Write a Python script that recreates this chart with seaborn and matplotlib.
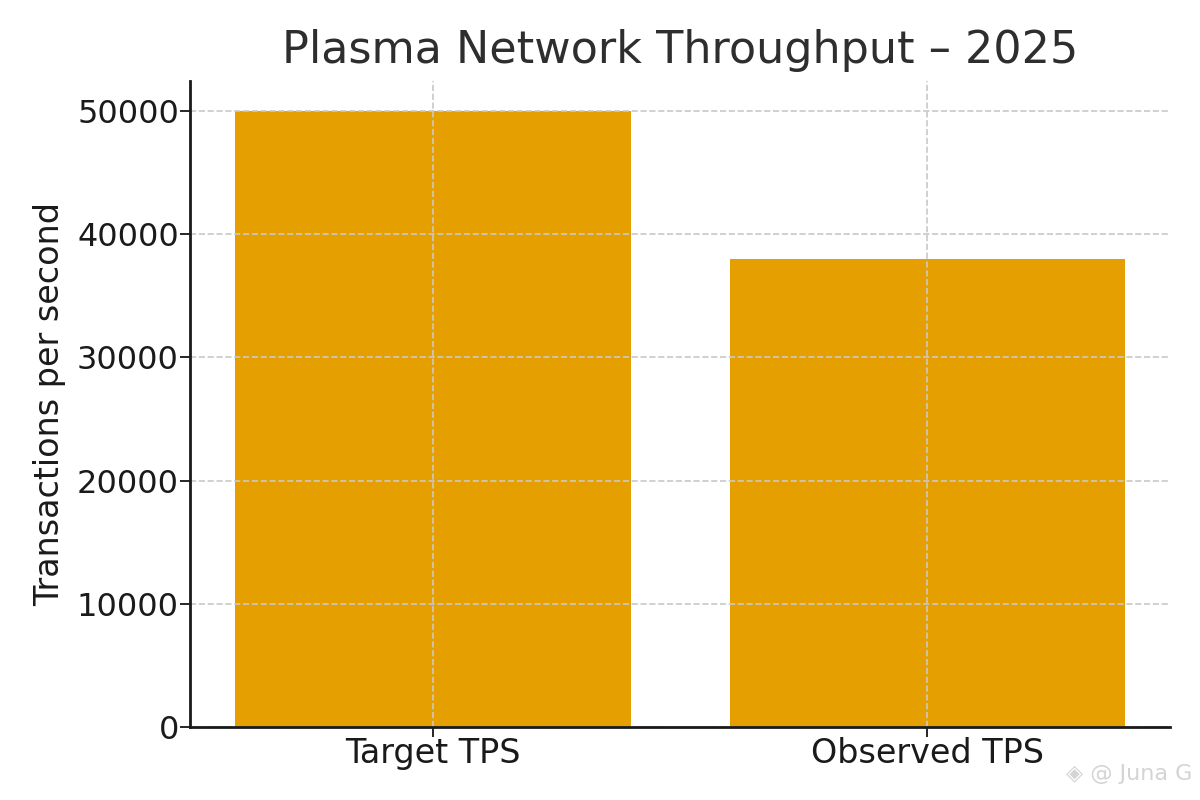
import matplotlib
matplotlib.use("Agg")
import matplotlib.pyplot as plt
import pandas as pd
import seaborn as sns

categories = ["Target TPS", "Observed TPS"]
tps_values = [50000, 38000]
y_ticks = [0, 10000, 20000, 30000, 40000, 50000]

df = pd.DataFrame({"metric": categories, "tps": tps_values})

sns.set_theme(style="ticks")
plt.rcParams["font.family"] = ["DejaVu Sans"]

fig = plt.figure(figsize=(12, 8), dpi=100)
ax = fig.add_axes([190 / 1200, 1 - 727 / 800, (1170 - 190) / 1200, (727 - 81) / 800])

sns.barplot(data=df, x="metric", y="tps", color="#E69F00", saturation=1, width=0.8, linewidth=0, ax=ax, zorder=2)

ax.set_xlim(-0.4914, 1.4904)
ax.set_ylim(0, 52435)
ax.set_yticks(y_ticks)
ax.grid(True, linestyle="--", linewidth=1.2, color="#c8c8c8", zorder=3)
ax.set_axisbelow(False)

ax.set_title("Plasma Network Throughput – 2025", fontsize=32, color="#2e2e2e", pad=13)
ax.set_xlabel("")
ax.set_ylabel("Transactions per second", fontsize=24, color="#1a1a1a", labelpad=8)
ax.tick_params(axis="x", labelsize=24, labelcolor="#1a1a1a", length=7, width=1.4, pad=0.5)
ax.tick_params(axis="y", labelsize=23, labelcolor="#1a1a1a", length=7, width=1.4, pad=1)

sns.despine(ax=ax)
for side in ["left", "bottom"]:
    ax.spines[side].set_linewidth(2)
    ax.spines[side].set_color("#1a1a1a")
    ax.spines[side].set_zorder(6)

fig.text(1192 / 1200, 1 - 774 / 800, "◈ @ Juna G", fontsize=16, color="#d4d4d4", ha="right", va="center")

fig.savefig("out.png", dpi=100)
